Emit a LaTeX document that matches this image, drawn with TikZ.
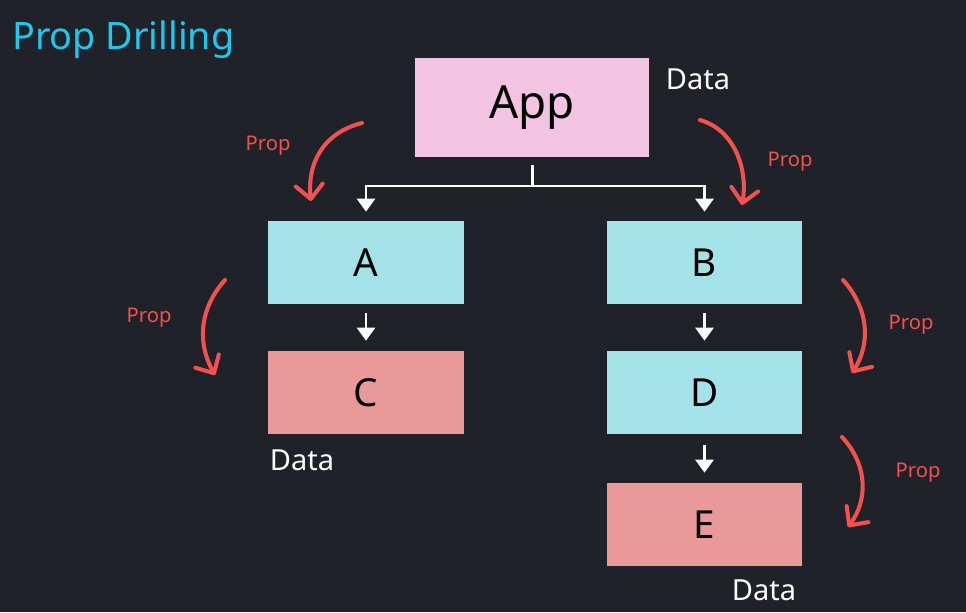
\documentclass[tikz,border=0pt]{standalone}
\usepackage{fontspec}
\setmainfont{Noto Sans}
\usetikzlibrary{arrows.meta,positioning}

\definecolor{bgdark}{HTML}{1F2228}
\definecolor{titlecyan}{HTML}{1EC9F0}
\definecolor{proppink}{HTML}{F2C4E2}
\definecolor{propcyan}{HTML}{A2E2E8}
\definecolor{propsalmon}{HTML}{E99A98}
\definecolor{propred}{HTML}{F2524F}

\begin{document}
\begin{tikzpicture}[
			x=0.02cm, y=-0.02cm,
			box/.style={
					rectangle,
					minimum width=3.92cm,
					minimum height=1.66cm,
					inner sep=0pt,
					font=\fontsize{22}{26}\selectfont,
					text=black
				},
			root/.style={box, fill=proppink, minimum width=4.68cm, minimum height=1.98cm,
					font=\fontsize{26}{30}\selectfont},
			child/.style={box, fill=propcyan},
			holder/.style={box, fill=propsalmon},
			datalabel/.style={text=white, font=\fontsize{16.5}{20}\selectfont},
			proplabel/.style={text=propred, font=\fontsize{11.5}{14}\selectfont},
			tree/.style={draw=white, line width=1.7pt, -{Triangle[length=2.6mm,width=3.6mm]}},
			pass/.style={draw=propred, line width=2.3pt, line cap=round,
					-{Straight Barb[length=2.8mm,width=5.4mm,round]}}
		]
		\useasboundingbox (0,0) rectangle (966,612);
		\fill[bgdark] (0,0) rectangle (966,612);

		% Title
		\node[anchor=west, text=titlecyan, font=\fontsize{21.5}{25}\selectfont] (title) at (6,40) {Prop Drilling};

		% Nodes
		\node[root] (app) at (532,107.5) {\raisebox{-1pt}{App}};
		\node[child] (a) at (366,262.5) {A};
		\node[child] (b) at (704.5,262.5) {B};
		\node[holder] (c) at (366,392.5) {C};
		\node[child] (d) at (704.5,392.5) {D};
		\node[holder] (e) at (704.5,524.5) {E};

		% Data labels
		\node[datalabel] (appdata) at (698,79) {Data};
		\node[datalabel] (cdata) at (302,460) {Data};
		\node[datalabel] (edata) at (764,590) {Data};

		% Arrows
		\coordinate (fork) at (532,186);
		\draw[draw=white, line width=1.7pt, shorten <=0.16cm] (app) -- (fork);
		\draw[tree, shorten >=0.18cm] (fork) -| (a);
		\draw[tree, shorten >=0.18cm] (fork) -| (b);
		\draw[tree, shorten <=0.18cm, shorten >=0.2cm] (a) -- (c);
		\draw[tree, shorten <=0.18cm, shorten >=0.2cm] (b) -- (d);
		\draw[tree, shorten <=0.22cm, shorten >=0.2cm] (d) -- (e);

		% Props
		\coordinate (p1s) at (362,123); \coordinate (p1e) at (311,201);
		\coordinate (p2s) at (700,120); \coordinate (p2e) at (742,205);
		\coordinate (p3s) at (225,280); \coordinate (p3e) at (215,375);
		\coordinate (p4s) at (843,280); \coordinate (p4e) at (852,373);
		\coordinate (p5s) at (842,437); \coordinate (p5e) at (848,527);
		\draw[pass] (p1s) .. controls (322,133) and (307,165) .. (p1e);
		\draw[pass] (p2s) .. controls (735,130) and (748,170) .. (p2e);
		\draw[pass] (p3s) .. controls (198,310) and (198,345) .. (p3e);
		\draw[pass] (p4s) .. controls (870,310) and (870,345) .. (p4e);
		\draw[pass] (p5s) .. controls (868,465) and (868,500) .. (p5e);
		\node[proplabel] (prop1) at (268,146) {Prop};
		\node[proplabel] (prop2) at (790,162) {Prop};
		\node[proplabel] (prop3) at (149,318) {Prop};
		\node[proplabel] (prop4) at (911,325) {Prop};
		\node[proplabel] (prop5) at (918,473) {Prop};

	\end{tikzpicture}
\end{document}
